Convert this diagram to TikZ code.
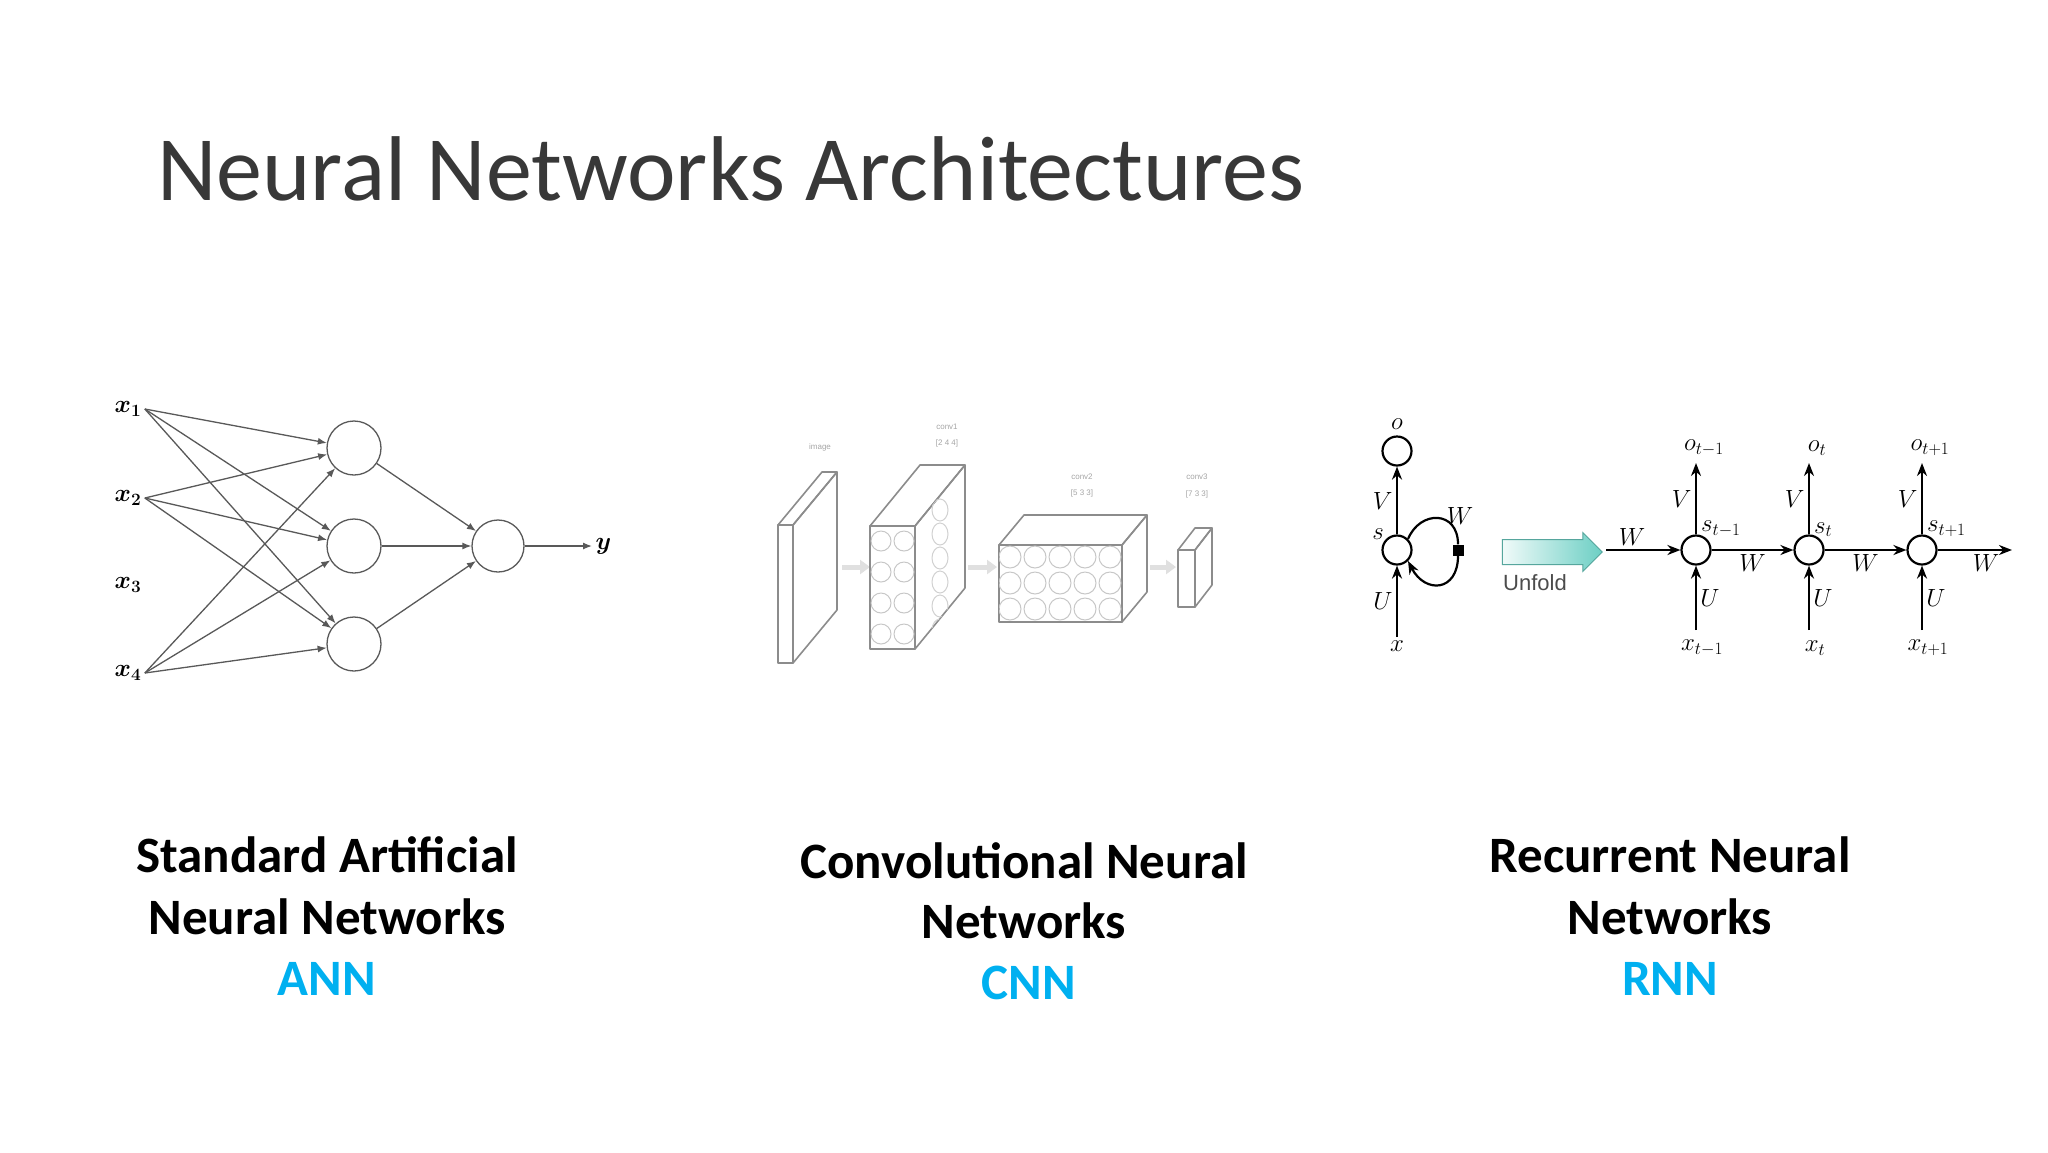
\documentclass[tikz,border=0pt]{standalone}
\usepackage{amsmath,bm}
\usepackage{fontspec}
\setmainfont{Carlito}
\newfontfamily\sansf{Liberation Sans}
\usetikzlibrary{arrows.meta,calc,shapes.arrows}
\definecolor{cyanx}{HTML}{00B0F0}
\definecolor{teal1}{HTML}{6CCFC4}
\newcommand\cnnbox[6]{%
 \fill[white] (#1,#2) rectangle (#3,#4);
 \draw[cbox] (#1,#2) -- ++(#5,#6) -- ($(#3,#2)+(#5,#6)$) -- (#3,#2) -- cycle;
 \draw[cbox] (#3,#2) -- ($(#3,#2)+(#5,#6)$) -- ($(#3,#4)+(#5,#6)$) -- (#3,#4) -- cycle;
 \draw[cbox] (#1,#2) rectangle (#3,#4);}
\begin{document}
\begin{tikzpicture}[x=1pt,y=-1pt,
 annl/.style={draw=black!65,line width=1.3pt,-{Latex[length=9pt,width=7pt]}},
 neuron/.style={circle,draw=black!65,line width=1.3pt,minimum size=54pt,inner sep=0pt},
 inlab/.style={font=\fontsize{24}{24}\selectfont\bfseries},
 cbox/.style={draw=black!45,line width=1.6pt,line join=round},
 ctxt/.style={text=black!35,font=\sansf\fontsize{8}{9}\selectfont},
 carr/.style={draw=black!12,line width=5pt,-{Triangle[length=10pt,width=14pt]}},
 rn/.style={circle,draw=black,line width=2.2pt,minimum size=29pt,inner sep=0pt},
 ra/.style={draw=black,line width=2.2pt,-{Stealth[length=13pt,width=10pt]}},
 rl/.style={font=\fontsize{26}{26}\selectfont},
 captxt/.style={font=\fontsize{51}{56}\selectfont\bfseries,align=center,anchor=base},
 capc/.style={font=\fontsize{51}{56}\selectfont\bfseries,text=cyanx,anchor=base}]
\useasboundingbox (0,0) rectangle (2048,1152);
\fill[white] (0,0) rectangle (2048,1152);
% title
\node[anchor=base west,inner sep=0pt,font=\fontsize{92}{92}\selectfont,text=black!78] (title) at (157,200) {Neural Networks Architectures};
% ANN
\node[inlab] (x1) at (128,409) {$\bm{x_1}$};
\node[inlab] (x2) at (128,498) {$\bm{x_2}$};
\node[inlab] (x3) at (128,585) {$\bm{x_3}$};
\node[inlab] (x4) at (128,673) {$\bm{x_4}$};
\node[neuron] (h1) at (354,448) {};
\node[neuron] (h2) at (354,546) {};
\node[neuron] (h3) at (354,644) {};
\node[neuron,minimum size=52pt] (out) at (498,546) {};
\node[inlab,anchor=west] (y) at (592,546) {$\bm{y}$};
\foreach \i in {x1,x2,x4}{\foreach \h in {h1,h2,h3}{\draw[annl] (\i.east) -- (\h);}}
\foreach \h in {h1,h2,h3}{\draw[annl] (\h) -- (out);}
\draw[annl] (out) -- (y.west);
% CNN
\draw[carr] (842,567) -- (870,567);
\draw[carr] (968,567) -- (997,567);
\draw[carr] (1150,567) -- (1176,567);
\cnnbox{778}{525}{793}{663}{44}{-53}
\cnnbox{870}{526}{915}{649}{50}{-61}
\cnnbox{999}{545}{1122}{622}{25}{-30}
\cnnbox{1178}{550}{1195}{607}{17}{-22}
\begin{scope}
\clip (870,526) rectangle (915,649);
\foreach \r in {0,...,3}{\foreach \c in {0,1}{\draw[black!22,line width=1pt] (881+\c*23,541+\r*31) circle (10);}}
\end{scope}
\begin{scope}
\clip (999,545) rectangle (1122,622);
\foreach \r in {0,1,2}{\foreach \c in {0,...,4}{\draw[black!22,line width=1pt] (1010+\c*25,557+\r*26) circle (11);}}
\end{scope}
\begin{scope}
\clip (915,526) -- (965,465) -- (965,588) -- (915,649) -- cycle;
\foreach \r in {0,...,5}{\draw[black!18,line width=1pt] (940,510+\r*24) ellipse (8 and 11);}
\end{scope}
\node[ctxt] (limg) at (820,447) {image};
\node[ctxt] (lc1a) at (947,427) {conv1};
\node[ctxt] (lc1b) at (947,443) {[2 4 4]};
\node[ctxt] (lc2a) at (1082,477) {conv2};
\node[ctxt] (lc2b) at (1082,493) {[5 3 3]};
\node[ctxt] (lc3a) at (1197,477) {conv3};
\node[ctxt] (lc3b) at (1197,494) {[7 3 3]};
% RNN folded
\node[rn] (o) at (1397,451) {};
\node[rl] (lo) at (1397,424) {$o$};
\node[rn] (s) at (1397,550) {};
\node[rl] (ls) at (1378,534) {$s$};
\node[rl] (lx) at (1397,646) {$x$};
\draw[ra] (s) -- node[rl,left] {$V$} (o);
\draw[ra] (lx) -- node[rl,left] {$U$} (s);
\node[fill=black,minimum size=11pt,inner sep=0pt] (sq) at (1458,550) {};
\draw[line width=2.2pt] (s.north east) .. controls (1420,510) and (1458,510) .. (sq.north);
\draw[ra] (sq.south) .. controls (1458,592) and (1425,594) .. (s.south east);
\node[rl] (lw) at (1460,516) {$W$};
% unfold arrow
\node[single arrow,draw=teal1!80!black,line width=1pt,shade,left color=teal1!10,right color=teal1,
  minimum height=100pt,inner xsep=0pt,inner ysep=12pt,single arrow head extend=7pt] (unf) at (1546,552) {};
\node[font=\sansf\fontsize{22}{22}\selectfont,text=black!70] (lunf) at (1535,583) {Unfold};
% RNN unrolled
\coordinate (win) at (1606,550);
\coordinate (wout) at (2012,550);
\foreach \n/\X/\sub in {a/1696/{t-1},b/1809/t,c/1922/{t+1}}{
 \node[rn] (s\n) at (\X,550) {};
 \node[rl] (o\n) at (\X+8,448) {$o_{\sub}$};
 \node[rl] (x\n) at (\X+6,648) {$x_{\sub}$};
 \node[rl,anchor=south west,inner sep=1pt] (ls\n) at (\X+4,538) {$s_{\sub}$};
 \draw[ra] (s\n) -- node[rl,left] {$V$} (\X,463);
 \draw[ra] (\X,630) -- node[rl,right] {$U$} (s\n);
}
\draw[ra] (win) -- node[rl,above,pos=0.35] {$W$} (sa);
\draw[ra] (sa) -- node[rl,below] {$W$} (sb);
\draw[ra] (sb) -- node[rl,below] {$W$} (sc);
\draw[ra] (sc) -- node[rl,below,pos=0.65] {$W$} (wout);
% captions
\node[captxt] (c1) at (327,872) {Standard Artificial};
\node[captxt] (c1b) at (327,934) {Neural Networks};
\node[capc] (c1c) at (327,995) {ANN};
\node[captxt] (c2) at (1024,878) {Convolutional Neural};
\node[captxt] (c2b) at (1024,938) {Networks};
\node[capc] (c2c) at (1029,999) {CNN};
\node[captxt] (c3) at (1670,872) {Recurrent Neural};
\node[captxt] (c3b) at (1670,934) {Networks};
\node[capc] (c3c) at (1670,995) {RNN};
\end{tikzpicture}
\end{document}
